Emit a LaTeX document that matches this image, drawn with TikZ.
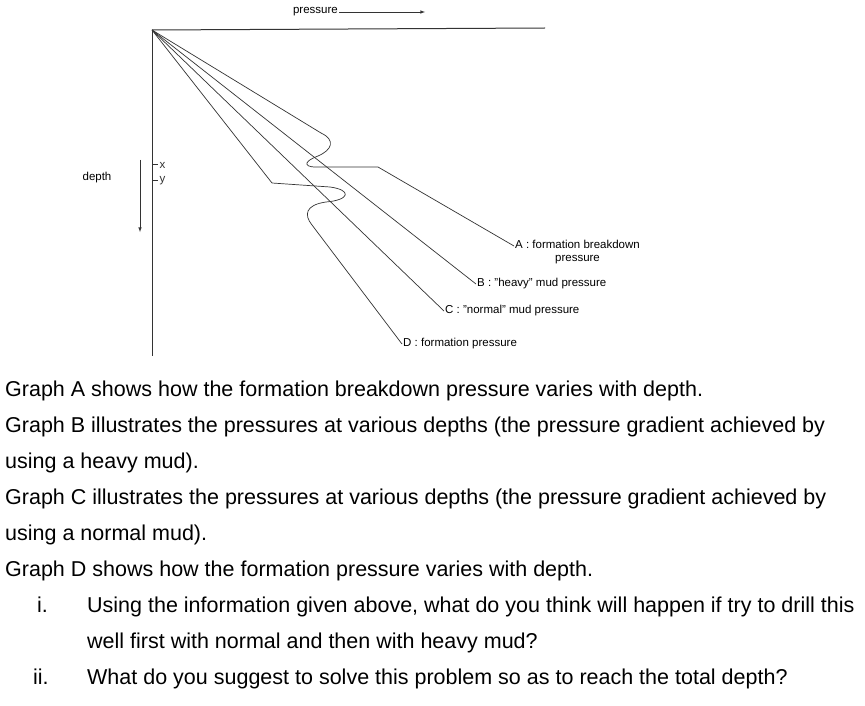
\documentclass[tikz,border=0pt]{standalone}
\usepackage{fontspec}
\setmainfont{Liberation Sans}
\begin{document}
\begin{tikzpicture}[x=1pt,y=-1pt,
  ln/.style={line width=1pt,black!80},
  sm/.style={font=\fontsize{11.5}{12.5}\selectfont,inner sep=1pt},
  body/.style={anchor=base west,font=\fontsize{21.5}{24}\selectfont,inner sep=0pt}]
\useasboundingbox[fill=white] (0,0) rectangle (865,706);
\coordinate (O) at (152,30);
\coordinate (XE) at (545,28);
\coordinate (YE) at (152,356);
\draw[ln] (O) -- (XE);
\draw[ln] (O) -- (YE);
\draw[ln] (152,165) -- (158,165) node[sm,right] (tx) {x};
\draw[ln] (152,181) -- (158,181) node[sm,right] (ty) {y};
\node[sm,anchor=east] (pr) at (339,12) {pressure};
\coordinate (pe) at (425,12);
\draw[ln,line width=0.6pt,-latex] (pr.east) -- (pe);
\node[sm] (dp) at (97,178) {depth};
\coordinate (d1) at (140,160);
\coordinate (d2) at (140,232);
\draw[ln,line width=0.6pt,-latex] (d1) -- (d2);
% curves
\node[sm,anchor=west,align=center] (A) at (514,252) {A : formation breakdown\\pressure};
\node[sm,anchor=west] (B) at (476,284) {B : "heavy" mud pressure};
\node[sm,anchor=west] (C) at (444,311) {C : "normal" mud pressure};
\node[sm,anchor=west] (D) at (402,344) {D : formation pressure};
\draw[ln,line width=0.7pt] (O) -- (321,133) .. controls (336,140) and (332,150) .. (318,156)
  .. controls (300,163) and (306,168) .. (320,167) -- (378,167) -- (A.west|-0,246);
\draw[ln,line width=0.7pt] (O) -- (B.west);
\draw[ln,line width=0.7pt] (O) -- (C.west);
\draw[ln,line width=0.7pt] (O) -- (272,183) -- (330,187) .. controls (352,190) and (350,200) .. (326,202)
  .. controls (305,205) and (304,215) .. (312,225) -- (D.west);
% text
\node[body] (t1) at (5,396) {Graph A shows how the formation breakdown pressure varies with depth.};
\node[body] (t2) at (5,432) {Graph B illustrates the pressures at various depths (the pressure gradient achieved by};
\node[body] (t3) at (5,468) {using a heavy mud).};
\node[body] (t4) at (5,504) {Graph C illustrates the pressures at various depths (the pressure gradient achieved by};
\node[body] (t5) at (5,540) {using a normal mud).};
\node[body] (t6) at (5,576) {Graph D shows how the formation pressure varies with depth.};
\node[body] (n1) at (37,612) {i.};
\node[body] (t7) at (87,612) {Using the information given above, what do you think will happen if try to drill this};
\node[body] (t8) at (87,648) {well first with normal and then with heavy mud?};
\node[body] (n2) at (33,684) {ii.};
\node[body] (t9) at (87,684) {What do you suggest to solve this problem so as to reach the total depth?};
\end{tikzpicture}
\end{document}
